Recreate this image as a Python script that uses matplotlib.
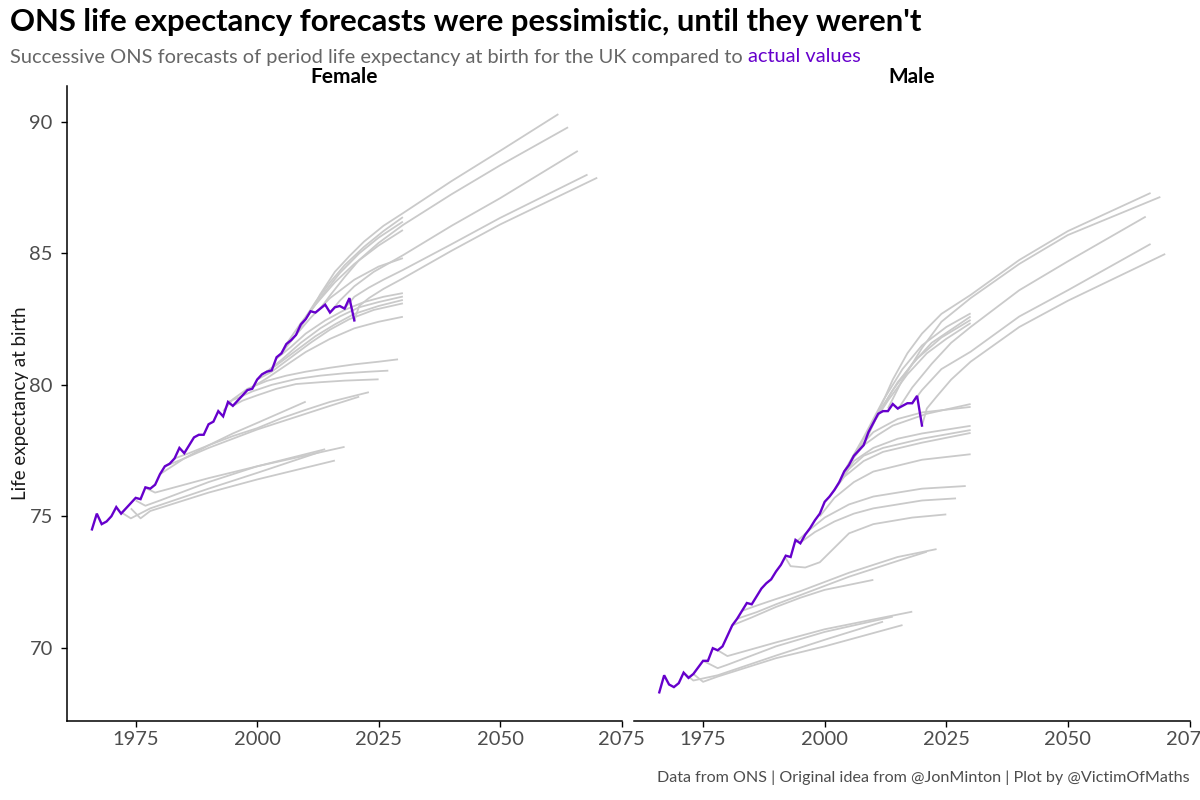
import matplotlib
matplotlib.use("Agg")
import matplotlib.pyplot as plt

# ---------------- data ----------------
years_actual = list(range(1966, 2021))
female_actual = [74.5, 75.1, 74.7, 74.8, 75.0, 75.35, 75.1, 75.3, 75.5, 75.7,
                 75.65, 76.1, 76.05, 76.2, 76.6, 76.9, 77.0, 77.2, 77.6, 77.4,
                 77.7, 78.0, 78.1, 78.1, 78.5, 78.6, 79.0, 78.8, 79.35, 79.2,
                 79.4, 79.6, 79.8, 79.85, 80.2, 80.4, 80.5, 80.55, 81.05, 81.2,
                 81.55, 81.7, 81.9, 82.3, 82.5, 82.8, 82.75, 82.9, 83.05, 82.75,
                 82.95, 83.0, 82.9, 83.3, 82.45]
male_actual = [68.3, 68.95, 68.6, 68.5, 68.65, 69.05, 68.85, 69.0, 69.25, 69.5,
               69.5, 69.98, 69.9, 70.05, 70.45, 70.85, 71.1, 71.4, 71.7, 71.65,
               71.95, 72.25, 72.45, 72.6, 72.9, 73.15, 73.5, 73.45, 74.1, 73.97,
               74.3, 74.55, 74.85, 75.1, 75.55, 75.75, 76.0, 76.3, 76.7, 76.95,
               77.3, 77.5, 77.7, 78.2, 78.55, 78.9, 79.0, 79.0, 79.27, 79.1,
               79.2, 79.3, 79.3, 79.58, 78.45]

female_fc_years = [
    [1972, 1974, 1978, 1990, 2000, 2013],
    [1974, 1976, 1978, 1990, 2000, 2016],
    [1975, 1977, 1980, 1990, 2000, 2014],
    [1977, 1979, 1990, 2000, 2018],
    [1980, 1985, 1990, 1995, 2000, 2010],
    [1981, 1985, 1990, 1995, 2000, 2005, 2010, 2015, 2021],
    [1983, 1986, 1990, 1995, 2000, 2005, 2010, 2015, 2023],
    [1993, 1995, 1998, 2002, 2006, 2010, 2015, 2020, 2025, 2029],
    [1994, 1996, 1999, 2003, 2008, 2013, 2018, 2023, 2027],
    [1995, 1997, 2000, 2004, 2008, 2013, 2018, 2025],
    [1998, 2002, 2006, 2010, 2015, 2020, 2025, 2030],
    [2000, 2003, 2007, 2011, 2015, 2019, 2024, 2030],
    [2001, 2004, 2008, 2012, 2016, 2020, 2025, 2030],
    [2002, 2005, 2009, 2013, 2017, 2021, 2025, 2030],
    [2004, 2007, 2010, 2014, 2018, 2022, 2026, 2030],
    [2005, 2008, 2011, 2015, 2020, 2025, 2030],
    [2006, 2009, 2012, 2016, 2020, 2025, 2030],
    [2008, 2011, 2014, 2017, 2021, 2025, 2030],
    [2009, 2012, 2015, 2018, 2022, 2026, 2030],
    [2011, 2013, 2016, 2019, 2022, 2026, 2030, 2040, 2050, 2062],
    [2013, 2015, 2018, 2021, 2025, 2030, 2040, 2050, 2064],
    [2015, 2017, 2020, 2024, 2030, 2040, 2050, 2066],
    [2018, 2020, 2023, 2026, 2030, 2040, 2050, 2068],
    [2020, 2021, 2023, 2026, 2030, 2040, 2050, 2070],
]
female_fc_values = [
    [75.15, 74.92, 75.3, 76.05, 76.65, 77.45],
    [75.3, 74.92, 75.2, 75.9, 76.4, 77.12],
    [75.6, 75.4, 75.6, 76.3, 76.9, 77.55],
    [76.08, 75.9, 76.45, 76.9, 77.64],
    [76.6, 77.2, 77.7, 78.15, 78.55, 79.36],
    [76.9, 77.2, 77.6, 77.95, 78.3, 78.6, 78.9, 79.2, 79.55],
    [77.2, 77.4, 77.7, 78.05, 78.35, 78.73, 79.05, 79.35, 79.72],
    [79.0, 79.45, 79.85, 80.15, 80.35, 80.5, 80.65, 80.78, 80.88, 80.97],
    [79.35, 79.5, 79.75, 80.0, 80.22, 80.35, 80.44, 80.5, 80.54],
    [79.2, 79.4, 79.6, 79.85, 80.03, 80.1, 80.16, 80.21],
    [79.8, 80.25, 80.75, 81.25, 81.75, 82.15, 82.4, 82.59],
    [80.2, 80.5, 81.05, 81.6, 82.1, 82.5, 82.85, 83.1],
    [80.4, 80.75, 81.3, 81.85, 82.3, 82.7, 83.0, 83.23],
    [80.5, 80.95, 81.6, 82.15, 82.6, 82.95, 83.15, 83.36],
    [81.0, 81.45, 81.95, 82.45, 82.85, 83.15, 83.35, 83.49],
    [81.2, 81.9, 82.55, 83.3, 84.0, 84.5, 84.82],
    [81.55, 82.35, 83.05, 83.9, 84.6, 85.3, 85.89],
    [81.9, 82.8, 83.55, 84.25, 85.0, 85.6, 86.21],
    [82.3, 83.15, 83.9, 84.55, 85.25, 85.85, 86.38],
    [82.8, 83.45, 84.3, 84.9, 85.45, 86.05, 86.53, 87.75, 88.9, 90.3],
    [82.9, 83.4, 84.1, 84.75, 85.4, 86.08, 87.25, 88.35, 89.8],
    [82.75, 83.2, 83.75, 84.3, 84.93, 86.05, 87.1, 88.9],
    [82.9, 83.35, 83.7, 84.0, 84.37, 85.35, 86.35, 88.0],
    [82.45, 83.0, 83.3, 83.65, 84.05, 85.1, 86.1, 87.88],
]

male_fc_years = [
    [1971, 1973, 1978, 1990, 2000, 2012],
    [1973, 1975, 1978, 1990, 2000, 2016],
    [1975, 1978, 1980, 1990, 2000, 2014],
    [1978, 1980, 1990, 2000, 2018],
    [1981, 1985, 1990, 1995, 2000, 2010],
    [1982, 1986, 1990, 1995, 2000, 2005, 2010, 2015, 2021],
    [1983, 1986, 1990, 1995, 2000, 2005, 2010, 2015, 2023],
    [1994, 1997, 2000, 2005, 2010, 2020, 2029],
    [1995, 1998, 2002, 2006, 2010, 2020, 2027],
    [1992, 1993, 1996, 1999, 2002, 2005, 2010, 2018, 2025],
    [1999, 2002, 2006, 2010, 2020, 2030],
    [2001, 2004, 2008, 2012, 2020, 2030],
    [2002, 2005, 2008, 2012, 2020, 2030],
    [2003, 2006, 2010, 2015, 2020, 2030],
    [2004, 2007, 2010, 2015, 2020, 2030],
    [2005, 2008, 2011, 2014, 2021, 2030],
    [2004, 2008, 2012, 2016, 2020, 2025, 2030],
    [2006, 2010, 2014, 2018, 2022, 2030],
    [2008, 2011, 2015, 2019, 2024, 2030],
    [2010, 2013, 2017, 2021, 2025, 2030],
    [2011, 2014, 2017, 2020, 2024, 2030, 2040, 2050, 2067],
    [2013, 2016, 2020, 2024, 2030, 2040, 2050, 2069],
    [2015, 2018, 2022, 2026, 2030, 2040, 2050, 2066],
    [2018, 2020, 2024, 2030, 2040, 2050, 2067],
    [2020, 2021, 2023, 2026, 2030, 2040, 2050, 2070],
]
male_fc_values = [
    [69.05, 68.75, 68.95, 69.7, 70.3, 70.99],
    [69.0, 68.7, 68.9, 69.6, 70.05, 70.86],
    [69.5, 69.22, 69.35, 70.05, 70.6, 71.18],
    [69.9, 69.68, 70.2, 70.7, 71.37],
    [70.85, 71.15, 71.55, 71.9, 72.2, 72.58],
    [71.1, 71.35, 71.65, 72.0, 72.35, 72.7, 73.0, 73.3, 73.65],
    [71.4, 71.6, 71.85, 72.15, 72.5, 72.85, 73.15, 73.45, 73.75],
    [74.0, 74.5, 74.95, 75.45, 75.75, 76.05, 76.15],
    [74.0, 74.4, 74.8, 75.1, 75.3, 75.6, 75.68],
    [73.4, 73.1, 73.05, 73.25, 73.8, 74.35, 74.7, 74.95, 75.07],
    [75.0, 75.7, 76.3, 76.7, 77.15, 77.36],
    [75.75, 76.5, 77.1, 77.45, 77.8, 78.17],
    [76.0, 76.8, 77.3, 77.6, 77.95, 78.28],
    [76.3, 77.1, 77.6, 77.95, 78.15, 78.44],
    [76.7, 77.6, 78.2, 78.7, 78.95, 79.16],
    [77.0, 77.7, 78.1, 78.45, 78.9, 79.27],
    [76.7, 78.0, 79.4, 80.6, 81.5, 82.2, 82.72],
    [77.3, 78.6, 79.8, 80.8, 81.6, 82.6],
    [77.7, 78.9, 80.1, 81.0, 81.8, 82.47],
    [78.55, 79.4, 80.4, 81.2, 81.75, 82.35],
    [78.95, 80.2, 81.2, 81.95, 82.7, 83.42, 84.75, 85.85, 87.3],
    [79.1, 80.2, 81.4, 82.4, 83.3, 84.6, 85.7, 87.15],
    [79.05, 79.9, 80.8, 81.6, 82.2, 83.6, 84.7, 86.4],
    [79.3, 79.8, 80.6, 81.26, 82.6, 83.6, 85.36],
    [78.45, 79.1, 79.55, 80.2, 80.88, 82.2, 83.2, 84.98],
]

panel_titles = ["Female", "Male"]
x_ticks = [1975, 2000, 2025, 2050, 2075]
y_ticks = [70, 75, 80, 85, 90]

# ---------------- style ----------------
FONT = ["Lato", "DejaVu Sans"]
plt.rcParams["font.family"] = FONT
GREY_LINE = "#CACACA"
PURPLE = "#6600CC"
TICK_TXT = "#4D4D4D"

W, H = 1200, 800
fig = plt.figure(figsize=(12, 8), dpi=100)
fig.patch.set_facecolor("white")

top_px, bot_px = 86, 721
ax_l = fig.add_axes([66.7 / W, 1 - bot_px / H, (622 - 66.7) / W, (bot_px - top_px) / H])
ax_r = fig.add_axes([634 / W, 1 - bot_px / H, (1190 - 634) / W, (bot_px - top_px) / H])

panels = [
    (ax_l, female_actual, female_fc_years, female_fc_values),
    (ax_r, male_actual, male_fc_years, male_fc_values),
]
for i, (ax, act, fyrs, fvals) in enumerate(panels):
    for yrs, vals in zip(fyrs, fvals):
        ax.plot(yrs, vals, color=GREY_LINE, lw=1.3, solid_capstyle="butt", zorder=2)
    ax.plot(years_actual, act, color=PURPLE, lw=1.7, zorder=3, solid_joinstyle="miter")
    ax.set_xlim(1960.8, 2075.1)
    ax.set_ylim(67.21, 91.37)
    ax.set_xticks(x_ticks)
    ax.set_xticklabels([str(t) for t in x_ticks])
    for s in ["top", "right"]:
        ax.spines[s].set_visible(False)
    ax.spines["bottom"].set_linewidth(1.1)
    ax.spines["bottom"].set_color("black")
    ax.tick_params(axis="x", length=4, width=1.0, color="black",
                   labelsize=14.5, labelcolor=TICK_TXT, pad=3)
    ax.set_facecolor("white")
    ax.text(0.5, 1.0 + 9 / (bot_px - top_px), panel_titles[i], transform=ax.transAxes,
            ha="center", va="center", fontsize=15, fontweight="bold", color="black")
    if i == 0:
        ax.set_yticks(y_ticks)
        ax.set_yticklabels([str(t) for t in y_ticks])
        ax.spines["left"].set_linewidth(1.1)
        ax.spines["left"].set_color("black")
        ax.tick_params(axis="y", length=4, width=1.0, color="black",
                       labelsize=14.5, labelcolor=TICK_TXT, pad=6)
        ax.set_ylabel("Life expectancy at birth", fontsize=13.5, color="#1A1A1A", labelpad=0)
    else:
        ax.spines["left"].set_visible(False)
        ax.set_yticks([])

fig.text(10 / W, 1 - 22 / H, "ONS life expectancy forecasts were pessimistic, until they weren't",
         ha="left", va="center", fontsize=22.3, fontweight="bold", color="black")

sub1 = fig.text(10 / W, 1 - 57 / H,
                "Successive ONS forecasts of period life expectancy at birth for the UK compared to ",
                ha="left", va="center", fontsize=14.4, color="#666666")
fig.canvas.draw()
renderer = fig.canvas.get_renderer()
bb = sub1.get_window_extent(renderer=renderer)
fig.text(bb.x1 / W, 1 - 57 / H, "actual values", ha="left", va="center",
         fontsize=14.4, color=PURPLE)

fig.text(1190 / W, 1 - 778 / H,
         "Data from ONS | Original idea from @JonMinton | Plot by @VictimOfMaths",
         ha="right", va="center", fontsize=11.6, color=TICK_TXT)

fig.savefig("out.png", dpi=100, facecolor="white")
